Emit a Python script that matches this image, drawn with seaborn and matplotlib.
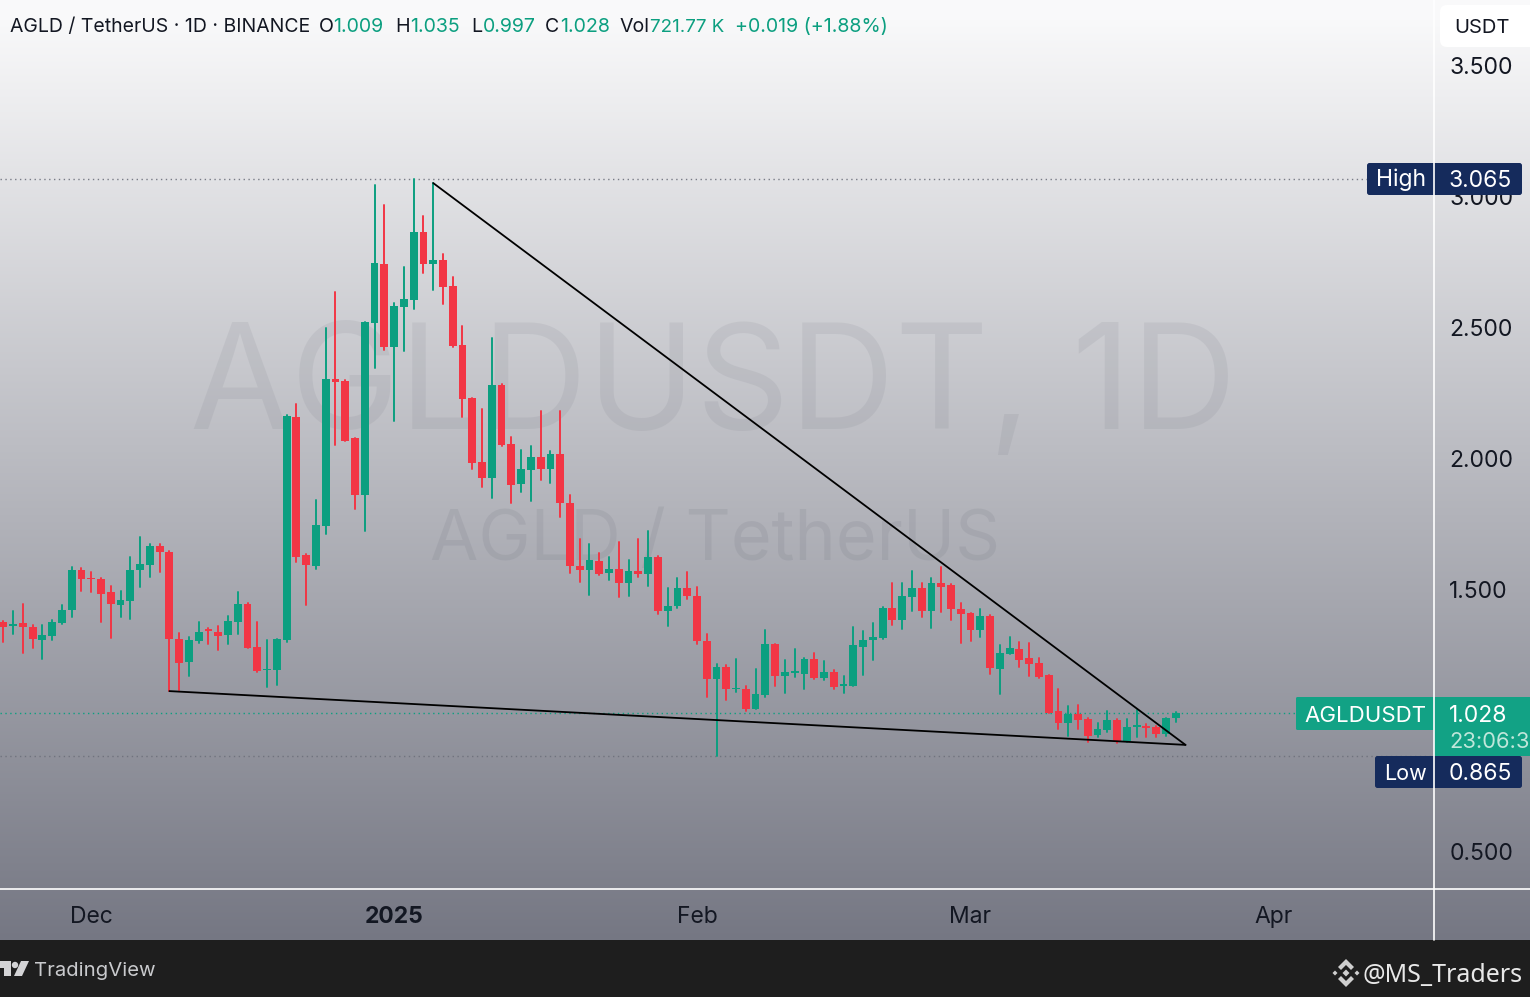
import numpy as np
import pandas as pd
import matplotlib
matplotlib.use("Agg")
import matplotlib.pyplot as plt
import matplotlib.transforms as mtransforms
from matplotlib.patches import Rectangle, FancyBboxPatch, Polygon, Circle
from matplotlib.lines import Line2D
import seaborn as sns

opens = [1.375,1.360,1.373,1.357,1.308,1.324,1.373,1.424,1.576,1.545,1.540,1.489,1.442,1.458,1.575,1.594,1.667,1.643,1.313,1.225,
         1.303,1.349,1.340,1.326,1.377,1.446,1.281,1.192,1.195,1.306,2.159,1.632,1.590,1.742,2.303,2.295,2.077,1.859,2.516,2.740,
         2.426,2.577,2.604,2.865,2.743,2.755,2.656,2.432,2.229,1.988,1.924,2.280,2.054,1.904,1.955,2.004,1.958,2.017,1.831,1.590,
         1.575,1.609,1.562,1.579,1.527,1.572,1.561,1.626,1.420,1.436,1.505,1.476,1.304,1.158,1.206,1.121,1.121,1.046,1.100,1.291,
         1.172,1.182,1.180,1.236,1.162,1.186,1.134,1.134,1.282,1.307,1.314,1.429,1.384,1.471,1.505,1.418,1.526,1.518,1.425,1.410,
         1.346,1.401,1.197,1.256,1.274,1.239,1.219,1.174,1.037,0.993,1.026,1.007,0.946,0.965,1.003,0.922,0.976,0.981,0.976,0.948,1.009]
highs = [1.379,1.418,1.444,1.366,1.366,1.383,1.440,1.585,1.581,1.568,1.543,1.512,1.495,1.624,1.701,1.675,1.674,1.646,1.336,1.321,
         1.378,1.355,1.360,1.398,1.491,1.448,1.377,1.308,1.313,2.166,2.206,1.636,1.842,2.496,2.636,2.299,2.077,2.522,3.042,2.966,
         2.591,2.729,3.065,2.924,3.049,2.780,2.693,2.505,2.231,2.190,2.458,2.282,2.083,2.032,2.047,2.182,2.028,2.182,1.861,1.692,
         1.673,1.641,1.623,1.683,1.613,1.692,1.724,1.628,1.507,1.545,1.568,1.511,1.331,1.216,1.211,1.234,1.134,1.196,1.346,1.294,
         1.232,1.272,1.240,1.257,1.228,1.194,1.171,1.358,1.343,1.374,1.432,1.524,1.526,1.572,1.524,1.543,1.585,1.520,1.450,1.412,
         1.425,1.403,1.289,1.321,1.299,1.295,1.241,1.175,1.121,1.056,1.061,1.009,0.993,1.036,1.005,1.005,1.041,0.988,0.979,1.012,1.035]
lows = [1.302,1.331,1.259,1.279,1.236,1.306,1.367,1.396,1.495,1.489,1.378,1.315,1.396,1.388,1.509,1.548,1.566,1.115,1.117,1.170,
        1.295,1.293,1.270,1.291,1.331,1.276,1.186,1.128,1.138,1.300,1.606,1.441,1.577,1.712,2.051,2.065,1.806,1.723,2.346,2.413,
        2.144,2.411,2.570,2.706,2.642,2.589,2.424,2.159,1.960,1.892,1.848,2.049,1.831,1.872,1.838,1.918,1.908,1.778,1.562,1.530,
        1.480,1.556,1.537,1.471,1.477,1.549,1.514,1.407,1.362,1.431,1.463,1.291,1.092,0.865,1.079,1.111,1.039,1.043,1.092,1.133,
        1.105,1.168,1.121,1.158,1.157,1.122,1.107,1.133,1.174,1.232,1.310,1.365,1.350,1.418,1.397,1.355,1.416,1.384,1.295,1.305,
        1.318,1.178,1.102,1.253,1.206,1.171,1.163,1.028,0.969,0.942,0.969,0.920,0.939,0.958,0.914,0.920,0.937,0.937,0.937,0.943,0.997]
closes = [1.357,1.370,1.357,1.311,1.326,1.377,1.424,1.575,1.540,1.540,1.485,1.444,1.460,1.575,1.597,1.667,1.643,1.311,1.220,1.307,
          1.339,1.342,1.325,1.379,1.444,1.279,1.190,1.197,1.311,2.162,1.625,1.594,1.746,2.301,2.290,2.068,1.859,2.519,2.744,2.426,
          2.582,2.606,2.865,2.740,2.757,2.655,2.429,2.225,1.984,1.924,2.280,2.051,1.899,1.961,2.004,1.958,2.017,1.829,1.590,1.575,
          1.613,1.560,1.577,1.527,1.572,1.561,1.623,1.418,1.436,1.505,1.476,1.304,1.159,1.204,1.121,1.126,1.045,1.102,1.291,1.172,
          1.186,1.190,1.236,1.163,1.186,1.128,1.139,1.289,1.308,1.319,1.430,1.384,1.476,1.507,1.418,1.526,1.511,1.425,1.407,1.346,
          1.399,1.202,1.260,1.276,1.232,1.215,1.166,1.031,0.991,1.026,1.003,0.943,0.967,1.002,0.924,0.975,0.983,0.974,0.950,1.009,1.028]

first_day = "2024-11-22"
month_ticks = ["2024-12-01", "2025-01-01", "2025-02-01", "2025-03-01", "2025-04-01"]
month_labels = ["Dec", "2025", "Feb", "Mar", "Apr"]
price_ticks = [0.5, 1.5, 2.0, 2.5, 3.0, 3.5]
price_labels = ["0.500", "1.500", "2.000", "2.500", "3.000", "3.500"]

upper_line_day = [44, 121]
upper_line_price = [3.050, 0.908]
lower_line_day = [17, 121]
lower_line_price = [1.113, 0.908]

high_price, low_price, last_price = 3.065, 0.865, 1.028

GREEN = "#0c9f80"
RED = "#f23645"
NAVY = "#152b5c"
INK = "#131722"

sns.set_theme(style="white")
plt.rcParams["font.family"] = ["Inter", "DejaVu Sans"]

W, H = 1530, 997
fig = plt.figure(figsize=(W / 100, H / 100), dpi=100)
px = mtransforms.Affine2D().scale(1 / W, -1 / H).translate(0, 1) + fig.transFigure

# background gradient
bg = fig.add_axes([0, 0, 1, 1], zorder=-5)
rows = np.arange(H)
shade = np.zeros((H, 1, 3))
shade[..., 0] = np.interp(rows, [0, 20, 940, H], [250, 249, 117, 117])[:, None]
shade[..., 1] = np.interp(rows, [0, 20, 940, H], [250, 249, 119, 119])[:, None]
shade[..., 2] = np.interp(rows, [0, 20, 940, H], [251, 250, 131, 131])[:, None]
bg.imshow(shade / 255, aspect="auto", extent=(0, 1, 0, 1))
bg.axis("off")

ax = fig.add_axes([0, 1 - 889 / H, 1434 / W, 889 / H], zorder=1)
ax.patch.set_alpha(0)

df = pd.DataFrame({"day": np.arange(len(opens)), "open": opens, "high": highs, "low": lows, "close": closes})
df["dir"] = np.where(df["close"] >= df["open"], "up", "down")
df["body_low"] = df[["open", "close"]].min(axis=1)
df["body"] = (df["open"] - df["close"]).abs()
palette = {"up": GREEN, "down": RED}

wicks = df.melt(id_vars=["day", "dir"], value_vars=["low", "high"], value_name="price")
sns.lineplot(data=wicks, x="day", y="price", units="day", estimator=None, hue="dir", palette=palette,
             sort=False, legend=False, linewidth=1.4, ax=ax, zorder=3)
for d in ("up", "down"):
    sub = df[df["dir"] == d]
    sns.barplot(data=sub, x="day", y="body", native_scale=True, color=palette[d], saturation=1,
                errorbar=None, width=0.8, bottom=sub["body_low"].to_numpy(), linewidth=0, ax=ax, zorder=4)

sns.lineplot(x=upper_line_day, y=upper_line_price, color="black", linewidth=1.3, ax=ax, zorder=5, sort=False)
sns.lineplot(x=lower_line_day, y=lower_line_price, color="black", linewidth=1.3, ax=ax, zorder=5, sort=False)

ax.axhline(high_price, color="#787b86", lw=1, ls=(0, (1, 2.5)), zorder=1)
ax.axhline(low_price, color="#70737e", lw=1, ls=(0, (1, 2.5)), zorder=1)
ax.axhline(last_price, color=GREEN, lw=1, ls=(0, (1, 2.5)), zorder=2)

ppd = 9.77
ppu = 262.3
ax.set_xlim(-3.3 / ppd, (1434 - 3.3) / ppd)
ax.set_ylim(3.5 - (889 - 65) / ppu, 3.5 + 65 / ppu)

start = pd.Timestamp(first_day)
ax.set_xticks([(pd.Timestamp(m) - start).days for m in month_ticks])
ax.set_xticklabels(month_labels, fontsize=16.5, color=INK)
ax.get_xticklabels()[1].set_fontweight("bold")
ax.yaxis.tick_right()
ax.set_yticks(price_ticks)
ax.set_yticklabels(price_labels, fontsize=16.5, color=INK)
ax.tick_params(axis="x", length=0, pad=12)
ax.tick_params(axis="y", length=0, pad=11)
ax.set_xlabel("")
ax.set_ylabel("")
for s in ax.spines.values():
    s.set_visible(False)
ax.grid(False)

# watermarks
wm = "#6b6e7a"
fig.text(713 / W, 1 - 390 / H, "AGLDUSDT, 1D", fontsize=105, color=wm, alpha=0.11, ha="center", va="center", zorder=0)
fig.text(715 / W, 1 - 542 / H, "AGLD / TetherUS", fontsize=50.5, color=wm, alpha=0.14, ha="center", va="center", zorder=0)

# white frame lines
fig.add_artist(Line2D([0, W], [888.5, 888.5], transform=px, color="white", lw=1.2, zorder=6))
fig.add_artist(Line2D([1434, 1434], [0, 940], transform=px, color="white", lw=1.2, zorder=8))

def box(x0, y0, x1, y1, color, r=2.5, z=5):
    p = FancyBboxPatch((x0, y0), x1 - x0, y1 - y0, boxstyle=f"round,pad=0,rounding_size={r}", transform=px,
                       facecolor=color, edgecolor="none", zorder=z)
    fig.add_artist(p)

def label(x, y, s, color="white", size=16.5, **kw):
    fig.text(x / W, 1 - y / H, s, color=color, fontsize=size, va="center", zorder=9, **kw)

# footer
fig.add_artist(Rectangle((0, 940), W, 57, transform=px, facecolor="#1e1e1e", edgecolor="none", zorder=6))

# price labels
box(1440, 5, 1545, 47, "white", r=7)
label(1454, 28, "USDT", INK, 14.5)
box(1367, 163, 1522, 195, NAVY)
label(1376, 180, "High")
label(1449, 181, "3.065")
box(1375, 756, 1522, 788, NAVY)
label(1384, 774, "Low", size=15.5)
label(1449, 774, "0.865")
box(1296, 697, 1440, 730, "#12a285", r=1.5)
box(1434, 697, 1545, 756, "#12a285", r=1.5)
label(1304, 716, "AGLDUSDT", size=16)
label(1449, 716, "1.028")
label(1449, 742, "23:06:3", "#bfe6da", 15.8)

# header
hdr = [(319, "O", INK), (333, "1.009", GREEN), (395, "H", INK),
       (410, "1.035", GREEN), (471, "L", INK), (483, "0.997", GREEN), (545, "C", INK), (560, "1.028", GREEN),
       (620, "Vol", INK), (735, "+0.019 (+1.88%)", GREEN)]
label(10, 27, "AGLD / TetherUS · 1D · BINANCE", INK, 14)
label(650, 27, "721.77 K", GREEN, 13.5)
for x, s, c in hdr:
    label(x, 27, s, c, 14.1)

# footer marks
tv = "#d4d4d6"
for pts in ([(0, 961), (11, 961), (11, 976), (4, 976), (4, 968), (0, 968)], [(21, 961), (29, 961), (22, 976), (14, 976)]):
    fig.add_artist(Polygon(pts, closed=True, transform=px, facecolor=tv, edgecolor="none", zorder=9))
fig.add_artist(Circle((15, 965), 3.2, transform=px, facecolor=tv, edgecolor="none", zorder=9))
label(34, 971, "TradingView", "#c9cacd", 14.6)

bn = "#cfcfcf"
cx, cy = 1346, 973
shapes = [
    [(cx, cy - 3.5), (cx + 3.5, cy), (cx, cy + 3.5), (cx - 3.5, cy)],
    [(cx - 11, cy - 2.5), (cx - 8.5, cy), (cx - 11, cy + 2.5), (cx - 13.5, cy)],
    [(cx + 11, cy - 2.5), (cx + 13.5, cy), (cx + 11, cy + 2.5), (cx + 8.5, cy)],
    [(cx, cy - 14), (cx + 8, cy - 6), (cx + 5, cy - 3), (cx, cy - 8), (cx - 5, cy - 3), (cx - 8, cy - 6)],
    [(cx, cy + 14), (cx + 8, cy + 6), (cx + 5, cy + 3), (cx, cy + 8), (cx - 5, cy + 3), (cx - 8, cy + 6)],
]
for pts in shapes:
    fig.add_artist(Polygon(pts, closed=True, transform=px, facecolor=bn, edgecolor="none", zorder=9))
fig.text(1362 / W, 1 - 975 / H, "@MS_Traders", color="#e8e8e8", fontsize=18, family="Noto Sans", va="center", zorder=9)

fig.savefig("out.png", dpi=100)
